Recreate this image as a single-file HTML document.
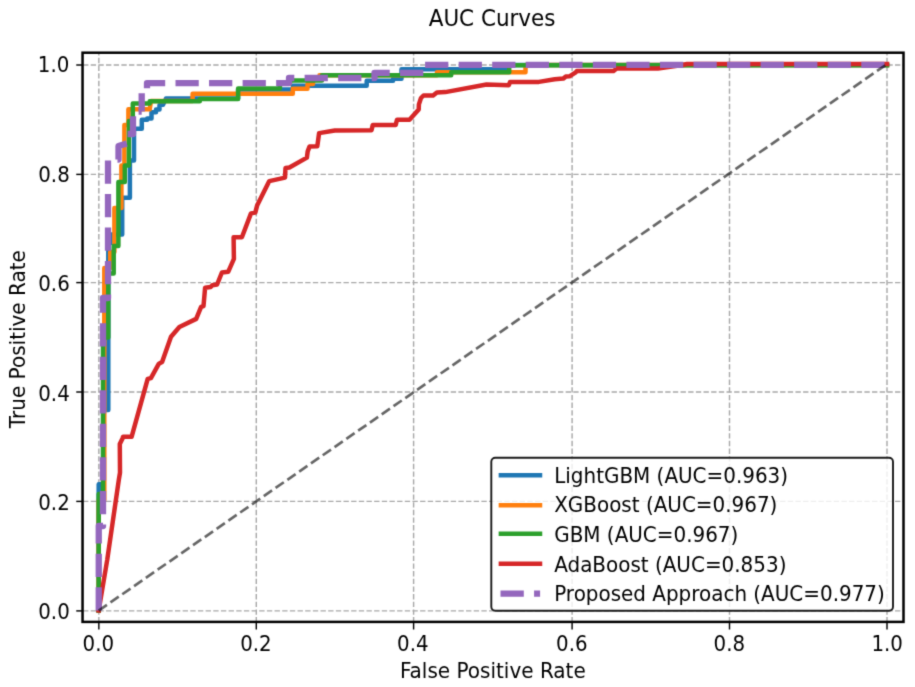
<!DOCTYPE html>
<html><head><meta charset="utf-8"><title>AUC Curves</title>
<style>
html,body{margin:0;padding:0;background:#fff;}
body{width:915px;height:687px;overflow:hidden;}
svg{display:block;}
text{font-family:"DejaVu Sans","Liberation Sans",sans-serif;fill:#000;}
</style></head><body>
<svg width="915" height="687" viewBox="0 0 915 687">
<rect x="0" y="0" width="915" height="687" fill="#fff"/>

<defs><filter id="soft" x="0" y="0" width="915" height="687" filterUnits="userSpaceOnUse" color-interpolation-filters="sRGB"><feConvolveMatrix order="3" kernelMatrix="0.01917 0.10012 0.01917 0.10012 0.52283 0.10012 0.01917 0.10012 0.01917" edgeMode="duplicate" preserveAlpha="true"/></filter></defs>
<g filter="url(#soft)">
<rect x="0" y="0" width="915" height="687" fill="#fff"/>
<defs><clipPath id="ax"><rect x="82.55" y="52.7" width="820.95" height="569.1999999999999"/></clipPath></defs>
<g stroke="#a8a8a8" stroke-width="1.44" stroke-dasharray="5.36 2.30" fill="none" clip-path="url(#ax)"><line x1="98.85" y1="622.40" x2="98.85" y2="52.70"/><line x1="256.30" y1="622.40" x2="256.30" y2="52.70"/><line x1="413.60" y1="622.40" x2="413.60" y2="52.70"/><line x1="572.10" y1="622.40" x2="572.10" y2="52.70"/><line x1="729.50" y1="622.40" x2="729.50" y2="52.70"/><line x1="887.00" y1="622.40" x2="887.00" y2="52.70"/><line x1="82.55" y1="610.90" x2="903.50" y2="610.90" stroke-dashoffset="-0.5"/><line x1="82.55" y1="501.40" x2="903.50" y2="501.40" stroke-dashoffset="-0.5"/><line x1="82.55" y1="392.00" x2="903.50" y2="392.00" stroke-dashoffset="-0.5"/><line x1="82.55" y1="282.60" x2="903.50" y2="282.60" stroke-dashoffset="-0.5"/><line x1="82.55" y1="174.40" x2="903.50" y2="174.40" stroke-dashoffset="-0.5"/><line x1="82.55" y1="65.00" x2="903.50" y2="65.00" stroke-dashoffset="-0.5"/></g>
<g clip-path="url(#ax)">
<polyline points="98.70,610.40 98.70,484.20 103.20,484.20 103.20,410.00 108.30,410.00 108.30,243.00 111.50,243.00 111.50,234.50 122.20,234.50 122.20,197.80 129.90,197.80 129.90,160.50 134.00,160.50 134.00,128.80 141.80,128.80 141.80,119.80 147.20,119.80 147.20,118.50 151.50,118.50 151.50,112.20 156.00,112.20 156.00,109.40 159.50,109.40 159.50,105.00 163.00,104.70 166.00,98.60 238.10,98.60 238.10,89.40 293.00,89.40 293.00,85.80 366.70,85.80 366.70,80.70 393.10,80.70 393.10,78.70 401.50,78.70 401.50,69.20 506.70,69.20 506.70,65.05 887.00,65.05" fill="none" stroke="#1f77b4" stroke-width="4.5" stroke-linejoin="round" stroke-linecap="square" />
<polyline points="98.70,610.40 98.70,500.00 104.30,500.00 104.30,267.90 110.20,267.90 110.20,252.00 114.40,252.00 114.40,208.00 121.40,208.00 121.40,165.60 124.40,165.60 124.40,125.00 128.40,125.00 128.40,109.30 149.70,109.30 151.00,101.00 192.60,101.00 192.60,93.80 292.80,93.80 292.80,88.70 307.50,88.70 307.50,84.00 313.00,84.00 313.00,78.00 319.50,78.00 319.50,75.30 437.00,75.30 437.00,72.20 525.50,72.20 525.50,65.05 887.00,65.05" fill="none" stroke="#ff7f0e" stroke-width="4.5" stroke-linejoin="round" stroke-linecap="square" />
<polyline points="98.70,610.40 98.70,494.00 103.00,494.00 103.00,337.50 108.30,337.50 108.30,273.50 113.70,273.50 113.70,246.00 118.40,246.00 118.40,182.00 124.80,182.00 124.80,165.60 128.90,165.60 128.90,121.00 132.80,121.00 132.80,103.60 149.70,103.60 149.70,101.20 199.80,101.20 199.80,98.90 238.10,98.90 238.10,88.50 279.90,88.50 279.90,83.50 290.00,83.50 290.00,80.50 322.00,80.50 322.00,75.30 451.20,75.30 451.20,72.20 509.20,72.20 509.20,65.30 887.00,65.30" fill="none" stroke="#2ca02c" stroke-width="4.5" stroke-linejoin="round" stroke-linecap="square" />
<polyline points="98.70,610.40 107.20,560.00 118.80,480.00 120.00,472.70 119.80,444.00 122.50,438.50 123.00,436.80 131.60,436.80 147.70,378.90 150.90,378.10 158.90,363.70 162.10,362.10 171.00,336.80 179.40,327.00 196.20,318.90 201.10,306.90 203.50,306.10 205.10,287.70 210.70,286.90 212.30,285.30 217.10,284.50 221.90,272.50 228.30,271.70 233.90,258.80 233.60,237.20 241.90,237.20 251.00,213.40 255.30,212.60 257.10,205.60 269.30,181.10 285.00,177.60 285.50,168.00 289.40,167.50 306.90,157.60 307.70,151.40 309.50,146.60 317.30,146.20 319.10,133.10 334.80,130.50 371.50,130.20 372.80,124.90 395.70,124.90 397.00,119.70 409.50,119.70 418.70,109.50 418.90,104.40 421.00,98.00 423.50,95.50 433.10,95.50 436.90,92.40 445.30,92.10 486.50,84.50 508.80,85.20 510.10,81.90 538.90,81.90 554.70,79.30 563.20,78.60 565.80,76.60 569.50,76.30 575.30,72.70 576.80,71.10 613.50,71.10 616.60,68.50 657.90,68.50 682.40,65.00 687.00,64.00 887.00,64.00" fill="none" stroke="#d62728" stroke-width="4.5" stroke-linejoin="round" stroke-linecap="square" />
<polyline points="98.75,610.57 98.75,526.00 103.00,526.00 103.00,298.00 108.00,298.00 108.00,159.60 118.50,159.60 118.50,146.00 127.00,143.50 127.00,134.00 133.00,134.00 133.00,111.50 141.70,111.50" fill="none" stroke="#9467bd" stroke-width="6.3" stroke-linejoin="round" stroke-linecap="butt" stroke-dasharray="23.25 10.3"/>
<polyline points="141.70,111.50 141.70,91.00 147.00,91.00 147.00,83.10 289.00,83.10 289.00,78.00 374.50,78.00 374.50,72.80 424.00,72.80" fill="none" stroke="#9467bd" stroke-width="6.3" stroke-linejoin="round" stroke-linecap="butt" stroke-dasharray="23.25 10.3" stroke-dashoffset="-28.65"/>
<polyline points="424.00,72.80 424.00,64.90 887.00,64.90" fill="none" stroke="#9467bd" stroke-width="6.3" stroke-linejoin="round" stroke-linecap="butt" stroke-dasharray="23.25 10.3" stroke-dashoffset="-9.00"/>
</g>
<line x1="98.69" y1="610.6" x2="887.1" y2="64.0" stroke="#000" stroke-opacity="0.6" stroke-width="2.7" stroke-dasharray="10.02 4.33" fill="none"/>
<rect x="82.55" y="52.7" width="820.95" height="569.20" fill="none" stroke="#000" stroke-width="2.5" stroke-linejoin="miter"/>
<g stroke="#000" stroke-width="1.44"><line x1="98.85" y1="621.90" x2="98.85" y2="629.50"/><line x1="82.55" y1="610.90" x2="76.25" y2="610.90"/><line x1="256.30" y1="621.90" x2="256.30" y2="629.50"/><line x1="82.55" y1="501.40" x2="76.25" y2="501.40"/><line x1="413.60" y1="621.90" x2="413.60" y2="629.50"/><line x1="82.55" y1="392.00" x2="76.25" y2="392.00"/><line x1="572.10" y1="621.90" x2="572.10" y2="629.50"/><line x1="82.55" y1="282.60" x2="76.25" y2="282.60"/><line x1="729.50" y1="621.90" x2="729.50" y2="629.50"/><line x1="82.55" y1="174.40" x2="76.25" y2="174.40"/><line x1="887.00" y1="621.90" x2="887.00" y2="629.50"/><line x1="82.55" y1="65.00" x2="76.25" y2="65.00"/></g>
<g><text transform="translate(98.28,650.60) scale(0.9524,1)" font-size="20.79" text-anchor="middle">0.0</text><text transform="translate(69.75,618.77) scale(0.9524,1)" font-size="20.79" text-anchor="end">0.0</text><text transform="translate(255.87,650.60) scale(0.9524,1)" font-size="20.79" text-anchor="middle">0.2</text><text transform="translate(69.75,510.03) scale(0.9524,1)" font-size="20.79" text-anchor="end">0.2</text><text transform="translate(412.86,650.60) scale(0.9524,1)" font-size="20.79" text-anchor="middle">0.4</text><text transform="translate(69.75,400.59) scale(0.9524,1)" font-size="20.79" text-anchor="end">0.4</text><text transform="translate(571.81,650.60) scale(0.9524,1)" font-size="20.79" text-anchor="middle">0.6</text><text transform="translate(69.75,291.12) scale(0.9524,1)" font-size="20.79" text-anchor="end">0.6</text><text transform="translate(729.31,650.60) scale(0.9524,1)" font-size="20.79" text-anchor="middle">0.8</text><text transform="translate(69.75,181.98) scale(0.9524,1)" font-size="20.79" text-anchor="end">0.8</text><text transform="translate(887.19,650.60) scale(0.9524,1)" font-size="20.79" text-anchor="middle">1.0</text><text transform="translate(69.30,72.27) scale(0.9524,1)" font-size="20.79" text-anchor="end">1.0</text></g>
<text transform="translate(492.85,677.60) scale(0.9524,1)" font-size="21.00" text-anchor="middle">False Positive Rate</text>
<text transform="translate(24.80,339.20) rotate(-90) scale(0.9524,1)" font-size="21.00" text-anchor="middle">True Positive Rate</text>
<text transform="translate(492.10,26.10) scale(0.9524,1)" font-size="22.57" text-anchor="middle">AUC Curves</text>
<rect x="491.3" y="457.8" width="401.70" height="153.00" rx="4" ry="4" fill="#fff" fill-opacity="0.8" stroke="#1a1a1a" stroke-width="1.9"/>
<line x1="500.9" y1="475.30" x2="540.0" y2="475.30" stroke="#1f77b4" stroke-width="4.5" stroke-linecap="square"/>
<text transform="translate(554.20,482.60) scale(0.9524,1)" font-size="20.95">LightGBM (AUC=0.963)</text>
<line x1="500.9" y1="505.20" x2="540.0" y2="505.20" stroke="#ff7f0e" stroke-width="4.5" stroke-linecap="square"/>
<text transform="translate(554.20,512.40) scale(0.9524,1)" font-size="20.95">XGBoost (AUC=0.967)</text>
<line x1="500.9" y1="533.80" x2="540.0" y2="533.80" stroke="#2ca02c" stroke-width="4.5" stroke-linecap="square"/>
<text transform="translate(554.20,542.30) scale(0.9524,1)" font-size="20.95">GBM (AUC=0.967)</text>
<line x1="500.9" y1="563.70" x2="540.0" y2="563.70" stroke="#d62728" stroke-width="4.5" stroke-linecap="square"/>
<text transform="translate(554.20,571.80) scale(0.9524,1)" font-size="20.95">AdaBoost (AUC=0.853)</text>
<line x1="500.5" y1="593.60" x2="540.1" y2="593.60" stroke="#9467bd" stroke-width="6.3" stroke-dasharray="23.3 10.28"/>
<text transform="translate(554.20,601.30) scale(0.9524,1)" font-size="20.95">Proposed Approach (AUC=0.977)</text>
</g>
</svg>
</body></html>
